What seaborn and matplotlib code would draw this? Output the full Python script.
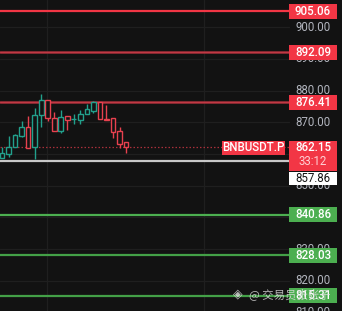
import matplotlib
matplotlib.use("Agg")
import matplotlib.pyplot as plt
import seaborn as sns
import numpy as np
import pandas as pd
from matplotlib.patches import Rectangle

# ---- data ----
opens  = [858.64, 859.91, 862.12, 865.78, 868.43, 862.12, 872.31, 877.05, 871.46, 867.36,
          872.00, 870.95, 870.73, 872.53, 873.67, 876.32, 871.05, 871.46, 867.26, 863.88]
highs  = [862.30, 865.68, 866.31, 870.42, 872.00, 874.43, 878.85, 877.05, 873.35, 873.89,
          872.00, 872.53, 873.89, 875.69, 876.73, 876.32, 875.47, 871.46, 868.62, 863.88]
lows   = [858.64, 859.15, 862.12, 865.46, 861.99, 858.42, 868.62, 870.42, 867.26, 866.72,
          867.58, 869.47, 869.47, 872.53, 872.85, 871.05, 870.73, 864.96, 861.80, 860.22]
closes = [860.22, 862.12, 866.00, 868.43, 861.99, 872.31, 877.05, 871.27, 867.26, 871.78,
          870.73, 871.05, 872.63, 874.11, 876.32, 871.05, 870.83, 867.04, 863.06, 862.15]

red_levels = [905.06, 892.09, 876.41]
green_levels = [840.86, 828.03, 815.31]
white_level = 857.86
last_price = 862.15
countdown = "33:12"
symbol = "BNBUSDT.P"
grid_prices = [810, 820, 830, 840, 850, 860, 870, 880, 890, 900]
time_grid = [6.9, 30.9]
watermark = "@ 交易员张张子"

df = pd.DataFrame({"o": opens, "h": highs, "l": lows, "c": closes})
df["i"] = np.arange(len(df))

# ---- style ----
BG = "#121212"
sns.set_theme(style="dark", rc={"axes.facecolor": BG, "figure.facecolor": BG})
plt.rcParams["font.family"] = ["Roboto", "Noto Sans CJK SC", "DejaVu Sans"]

W, H = 342, 311
fig = plt.figure(figsize=(W / 100, H / 100), dpi=100)
ax = fig.add_axes([0, 0, 1, 1], zorder=0)
ax.set_facecolor(BG)
for s in ax.spines.values():
    s.set_visible(False)
ax.set_xticks([]); ax.set_yticks([])

step = 6.53
ax.set_xlim(-2 / step, (W - 2) / step)
ax.set_ylim(810.43, 908.62)

plot_right = 289 / W
GRID = "#1f1f1f"
for g in grid_prices:
    ax.axhline(g, xmin=0, xmax=plot_right, color=GRID, lw=0.9, zorder=0)
for t in time_grid:
    ax.axvline(t, color=GRID, lw=0.9, zorder=0)

GREEN_C = "#22a08c"
RED_C = "#e8414f"

# wicks and hollow bodies
for _, r in df.iterrows():
    col = GREEN_C if r.c >= r.o else RED_C
    top, bot = max(r.o, r.c), min(r.o, r.c)
    ax.vlines(r.i, top, r.h, color=col, lw=1.0, zorder=3)
    ax.vlines(r.i, r.l, bot, color=col, lw=1.0, zorder=3)
    hgt = max(top - bot, 0.25)
    ax.add_patch(Rectangle((r.i - 0.36, bot), 0.72, hgt, facecolor=BG,
                           edgecolor=col, lw=1.0, zorder=4))

# level lines
ax.axhline(red_levels[0], xmax=plot_right, color="#f23645", lw=1.6, zorder=2)
for v in red_levels[1:]:
    ax.axhline(v, xmax=plot_right, color="#a8303a", lw=1.8, zorder=2)
    ax.axhline(v, xmax=plot_right, color="#c23a45", lw=0.7, zorder=2)
ax.axhline(white_level, xmax=plot_right, color="#c8c8c8", lw=1.6, zorder=2)
ax.axhline(green_levels[0], xmax=plot_right, color="#4caf50", lw=1.6, zorder=2)
for v in green_levels[1:]:
    ax.axhline(v, xmax=plot_right, color="#43a047", lw=1.6, zorder=2)
ax.axhline(last_price, xmax=plot_right, color="#a8303a", lw=0.9, ls=(0, (1.2, 1.6)), zorder=2)

fig.canvas.draw()

def ypx(v):
    # pixel from top
    return H - ax.transData.transform((0, v))[1]

# overlay axes in pixel coordinates for price-scale labels
lab = fig.add_axes([0, 0, 1, 1], zorder=5)
lab.set_xlim(0, W); lab.set_ylim(H, 0)
lab.patch.set_alpha(0)
lab.set_axis_off()

def box(x0, y_top, w, h, fc, z=6):
    lab.add_patch(Rectangle((x0, y_top), w, h, facecolor=fc, edgecolor="none", zorder=z))

def txt(x, y, s, color, size=8.3, weight="medium", ha="center", z=7, alpha=1.0, family=None):
    kw = {}
    if family is not None:
        kw["family"] = family
    lab.text(x, y, s, color=color, fontsize=size, fontweight=weight,
             ha=ha, va="center", zorder=z, alpha=alpha, **kw)

LX, LW = 289, 48
CX = LX + LW / 2

# axis tick labels (under the boxes)
for g in grid_prices:
    txt(CX, ypx(g), f"{g:.2f}", "#b2b5be", weight="normal", z=3)

for v in red_levels:
    y = ypx(v)
    box(LX, y - 7.5, LW, 15, "#f23645")
    txt(CX, y, f"{v:.2f}", "white")
for v in green_levels:
    y = ypx(v)
    box(LX, y - 7.5, LW, 15, "#4caf50")
    txt(CX, y, f"{v:.2f}", "white")

# last price box with countdown
yl = ypx(last_price)
box(LX, yl - 6, LW, 30, "#f23645")
txt(CX, yl, f"{last_price:.2f}", "white")
txt(CX, yl + 14.5, countdown, "#ffd0d4", weight="normal")
# symbol label
box(222, yl - 6.5, 63, 14, "#f23645")
txt(253.5, yl + 0.5, symbol, "white")
# white level label shifted below
yw = yl + 25
box(LX, yw, LW, 13, "#ffffff")
txt(CX, yw + 6.5, f"{white_level:.2f}", "#131313", weight="normal")

# watermark on top of everything (figure level, above overlay axes)
fig.text(238 / W, 1 - 294 / H, "◈", color="#e0e0e0", fontsize=9, ha="center",
         va="center", alpha=0.8, zorder=100, family=["DejaVu Sans"])
fig.text(249 / W, 1 - 294 / H, watermark, color="#e0e0e0", fontsize=8.2,
         ha="left", va="center", alpha=0.8, zorder=100,
         family=["Noto Sans CJK SC", "DejaVu Sans"])

fig.savefig("out.png", dpi=100, facecolor=BG)
